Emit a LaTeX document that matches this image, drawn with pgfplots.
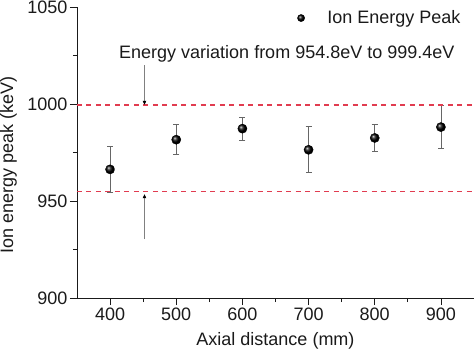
\documentclass[border=0pt]{standalone}
\usepackage{pgfplots}
\pgfplotsset{compat=1.18}
\usepackage{fontspec}
\setmainfont{Liberation Sans}
\usetikzlibrary{arrows.meta}
\definecolor{txt}{HTML}{1A1A1A}
\definecolor{dashred}{RGB}{225,60,80}
\newcommand{\bigf}{\fontsize{18bp}{21bp}\selectfont}
\begin{document}
\begin{tikzpicture}
\begin{axis}[
  at={(0,0)}, anchor=south west,
  scale only axis, width=397bp, height=291bp,
  xmin=350, xmax=950, ymin=900, ymax=1050,
  axis x line*=bottom, axis y line*=left,
  axis line style={txt, line width=0.8bp},
  xtick={400,500,...,900}, ytick={900,950,1000,1050},
  minor x tick num=1, minor y tick num=1,
  tick align=outside,
  major tick length=7bp, minor tick length=4bp,
  tick style={txt, line width=0.8bp},
  /pgf/number format/assume math mode=true,
  /pgf/number format/1000 sep={},
  tick label style={font=\bigf, text=txt, inner sep=2.5bp},
  xlabel={Axial distance (mm)}, ylabel={Ion energy peak (keV)},
  label style={text=txt, font=\bigf},
  xlabel style={at={(axis description cs:0.5,-0.148)}, anchor=center},
  ylabel style={at={(axis description cs:-0.1725,0.457)}, anchor=center},
  legend image code/.code={\draw[#1, mark size=3.6bp] plot coordinates {(0.3cm,0cm)};},
  legend style={at={(axis description cs:0.5544,0.962)}, anchor=west, draw=none, fill=none,
    inner sep=0pt, column sep=22.4bp, font=\bigf,
    nodes={inner sep=0pt, text=txt, font=\bigf}},
  clip=false,
]
\addplot[only marks, mark=ball, mark size=4.6bp, mark options={ball color=black},
  error bars/.cd, y dir=both, y explicit,
  error bar style={gray!80!black, line width=0.8bp},
  error mark options={rotate=90, mark size=3bp, gray!80!black, line width=0.8bp}]
  coordinates {
  (400,966.3) += (0,12.1) -= (0,11.8)
  (500,981.6) += (0,8.1) -= (0,7.7)
  (600,987.3) += (0,6.0) -= (0,5.9)
  (700,976.4) += (0,11.9) -= (0,11.8)
  (800,982.5) += (0,7.0) -= (0,7.1)
  (900,988.1) += (0,11.0) -= (0,11.1)
  };
\addlegendentry{Ion Energy Peak}
\addplot[dashred, line width=1.5bp, dash pattern=on 5bp off 4.5bp, forget plot]
  coordinates {(350,999.4) (950,999.4)};
\addplot[dashred, line width=1.5bp, dash pattern=on 5bp off 4.5bp, forget plot]
  coordinates {(350,954.8) (950,954.8)};
\addplot[gray, line width=0.6bp, -{Triangle[black,length=4bp,width=3.5bp]}, forget plot]
  coordinates {(452,1020) (452,999.6)};
\addplot[gray, line width=0.6bp, -{Triangle[black,length=4bp,width=3.5bp]}, forget plot]
  coordinates {(452,930.4) (452,953.5)};
\node[anchor=west, text=txt, inner sep=0pt, font=\bigf] at (axis cs:413.5,1026.1) {Energy variation from 954.8eV to 999.4eV};
\end{axis}
\pgfresetboundingbox
\useasboundingbox (-77bp,-53bp) rectangle (397bp,298bp);
\end{tikzpicture}
\end{document}
